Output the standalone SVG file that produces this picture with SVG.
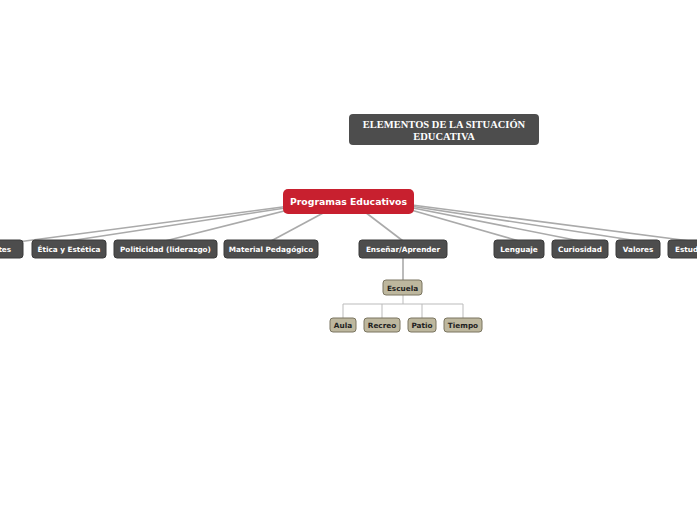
<svg xmlns="http://www.w3.org/2000/svg" width="697" height="520" viewBox="0 0 697 520">
<style>
.n rect{fill:#4d4d4d;stroke:#3a3a3a}
.n text{fill:#fff;font:bold 7.3px "DejaVu Sans",sans-serif;text-anchor:middle}
.s rect{fill:#bdb79e;stroke:#7a7560}
.s text{fill:#222;font:bold 7.3px "DejaVu Sans",sans-serif;text-anchor:middle}
.c path{fill:none;stroke:#aaa;stroke-width:1.6}
.c2 path{fill:none;stroke:#bbb;stroke-width:1}
</style>
<rect width="697" height="520" fill="#fff"/>
<g class="c">
<path d="M290 206 L10 243"/>
<path d="M292 207 L69 241"/>
<path d="M296 208 L165 241"/>
<path d="M325 212 L271 241"/>
<path d="M365 212 L403 241"/>
<path d="M404 208 L519 241"/>
<path d="M408 207 L580 241"/>
<path d="M410 206 L638 241"/>
<path d="M412 205 L690 241"/>
<path d="M403 258 L403 281"/>
</g>
<g class="c2">
<path d="M403 295 V304 M343 318 V304 H463 V318 M382 304 V318 M422 304 V318"/>
</g>
<g id="title"><rect x="349" y="114" width="190" height="31" rx="4" fill="#4d4d4d"/>
<text x="444" y="128" fill="#fff" font-family="Liberation Serif,serif" font-weight="bold" font-size="10.5" text-anchor="middle">ELEMENTOS DE LA SITUACIÓN</text>
<text x="444" y="140" fill="#fff" font-family="Liberation Serif,serif" font-weight="bold" font-size="10.5" text-anchor="middle">EDUCATIVA</text></g>
<g id="main"><rect x="283" y="189" width="131" height="25" rx="5" fill="#c8202f"/>
<text x="348.5" y="205" fill="#fff" font-family="DejaVu Sans,sans-serif" font-weight="bold" font-size="9.3" text-anchor="middle">Programas Educativos</text></g>
<g id="n1" class="n"><rect x="-40" y="240" width="63" height="18" rx="3"/><text x="-8" y="252">Docentes</text></g>
<g id="n2" class="n"><rect x="32" y="240" width="74" height="18" rx="3"/><text x="69" y="252">Ética y Estética</text></g>
<g id="n3" class="n"><rect x="114" y="240" width="103" height="18" rx="3"/><text x="165.5" y="252">Politicidad (liderazgo)</text></g>
<g id="n4" class="n"><rect x="224" y="240" width="94" height="18" rx="3"/><text x="271" y="252">Material Pedagógico</text></g>
<g id="n5" class="n"><rect x="359" y="240" width="88" height="18" rx="3"/><text x="403" y="252">Enseñar/Aprender</text></g>
<g id="n6" class="n"><rect x="494" y="240" width="50" height="18" rx="3"/><text x="519" y="252">Lenguaje</text></g>
<g id="n7" class="n"><rect x="552" y="240" width="56" height="18" rx="3"/><text x="580" y="252">Curiosidad</text></g>
<g id="n8" class="n"><rect x="616" y="240" width="44" height="18" rx="3"/><text x="638" y="252">Valores</text></g>
<g id="n9" class="n"><rect x="668" y="240" width="70" height="18" rx="3"/><text x="675" y="252" style="text-anchor:start">Estudiantes</text></g>
<g id="s0" class="s"><rect x="383" y="280" width="39" height="15" rx="3"/><text x="402.5" y="290.5">Escuela</text></g>
<g id="s1" class="s"><rect x="330" y="318" width="26" height="14" rx="3"/><text x="343" y="328">Aula</text></g>
<g id="s2" class="s"><rect x="364" y="318" width="36" height="14" rx="3"/><text x="382" y="328">Recreo</text></g>
<g id="s3" class="s"><rect x="408" y="318" width="28" height="14" rx="3"/><text x="422" y="328">Patio</text></g>
<g id="s4" class="s"><rect x="444" y="318" width="38" height="14" rx="3"/><text x="463" y="328">Tiempo</text></g>
</svg>
